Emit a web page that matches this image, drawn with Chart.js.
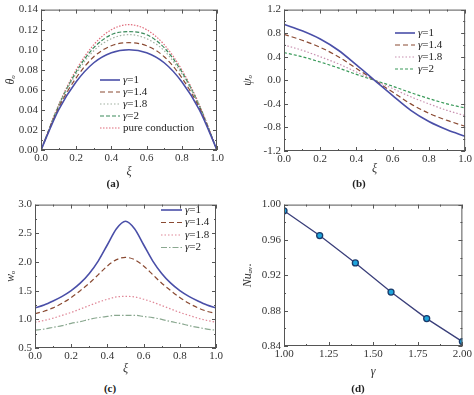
<!DOCTYPE html>
<html>
<head>
<meta charset="utf-8">
<script src="https://cdn.jsdelivr.net/npm/chart.js@4.4.0/dist/chart.umd.min.js"></script>
<style>
body { margin: 0; background: #fff; }
#wrap { position: relative; width: 474px; height: 395px; overflow: hidden; font-family: "Liberation Serif", serif; }
canvas { position: absolute; }
.cap { position: absolute; font-size: 11px; font-weight: bold; line-height: 12px; transform: translateX(-50%); color: #222; }
</style>
</head>
<body>
<div id="wrap">
  <canvas id="pa" width="230" height="183" style="left:0;top:0"></canvas>
  <canvas id="pb" width="237" height="180" style="left:237px;top:0"></canvas>
  <canvas id="pc" width="230" height="185" style="left:0;top:195px"></canvas>
  <canvas id="pd" width="237" height="188" style="left:237px;top:195px"></canvas>
  <div class="cap" style="left:113px;top:177px">(a)</div>
  <div class="cap" style="left:359px;top:177px">(b)</div>
  <div class="cap" style="left:110px;top:382px">(c)</div>
  <div class="cap" style="left:358px;top:382px">(d)</div>
</div>
<script>
// ---- data ----
const xi10 = [0, 0.1, 0.2, 0.3, 0.4, 0.5, 0.6, 0.7, 0.8, 0.9, 1.0];
const xi20 = [0, 0.05, 0.1, 0.15, 0.2, 0.25, 0.3, 0.35, 0.4, 0.45, 0.5,
              0.55, 0.6, 0.65, 0.7, 0.75, 0.8, 0.85, 0.9, 0.95, 1.0];

// (a) theta_o
const thetaG1   = [0, 0.040, 0.068, 0.087, 0.097, 0.100, 0.097, 0.087, 0.068, 0.040, 0];
const thetaG14  = [0, 0.042, 0.072, 0.093, 0.104, 0.107, 0.104, 0.093, 0.072, 0.042, 0];
const thetaG18  = [0, 0.044, 0.076, 0.099, 0.111, 0.115, 0.111, 0.099, 0.076, 0.044, 0];
const thetaG2   = [0, 0.044, 0.078, 0.102, 0.115, 0.118, 0.115, 0.102, 0.078, 0.044, 0];
const thetaPure = [0, 0.045, 0.080, 0.105, 0.120, 0.125, 0.120, 0.105, 0.080, 0.045, 0];

// (b) psi_o
const psiG1  = [0.95, 0.84, 0.70, 0.51, 0.26, 0, -0.26, -0.51, -0.70, -0.84, -0.95];
const psiG14 = [0.78, 0.68, 0.56, 0.40, 0.20, 0, -0.20, -0.40, -0.56, -0.68, -0.78];
const psiG18 = [0.60, 0.51, 0.40, 0.28, 0.14, 0, -0.14, -0.28, -0.40, -0.51, -0.60];
const psiG2  = [0.47, 0.40, 0.31, 0.21, 0.10, 0, -0.10, -0.21, -0.31, -0.40, -0.47];

// (c) w_o
const wG1  = [1.20, 1.25, 1.32, 1.40, 1.50, 1.63, 1.80, 2.02, 2.30, 2.58, 2.71,
              2.58, 2.30, 2.02, 1.80, 1.63, 1.50, 1.40, 1.32, 1.25, 1.20];
const wG14 = [1.10, 1.14, 1.20, 1.28, 1.38, 1.50, 1.63, 1.78, 1.93, 2.04, 2.08,
              2.04, 1.93, 1.78, 1.63, 1.50, 1.38, 1.28, 1.20, 1.14, 1.10];
const wG18 = [0.95, 0.98, 1.02, 1.07, 1.12, 1.18, 1.24, 1.30, 1.35, 1.39, 1.40,
              1.39, 1.35, 1.30, 1.24, 1.18, 1.12, 1.07, 1.02, 0.98, 0.95];
const wG2  = [0.81, 0.83, 0.86, 0.89, 0.93, 0.96, 1.00, 1.03, 1.05, 1.07, 1.07,
              1.07, 1.05, 1.03, 1.00, 0.96, 0.93, 0.89, 0.86, 0.83, 0.81];

// (d) Nu_av vs gamma
const gammaVals = [1.0, 1.2, 1.4, 1.6, 1.8, 2.0];
const nuAvg     = [0.993, 0.965, 0.934, 0.901, 0.871, 0.845];

const FONT = '"Liberation Serif", "DejaVu Serif", serif';

// inward ticks on all four sides + frame
const frameTicks = {
  id: 'frameTicks',
  afterDraw(chart) {
    const { ctx, chartArea: a, scales } = chart;
    ctx.save();
    ctx.strokeStyle = '#555';
    ctx.lineWidth = 1;
    ctx.strokeRect(a.left + 0.5, a.top + 0.5, a.right - a.left - 1, a.bottom - a.top - 1);
    const marks = (scale) => {
      const vals = scale.ticks.map(t => t.value);
      const out = vals.map(v => [v, 4]);
      for (let i = 0; i < vals.length - 1; i++) out.push([(vals[i] + vals[i + 1]) / 2, 2]);
      return out;
    };
    ctx.beginPath();
    marks(scales.x).forEach(([v, len]) => {
      const p = Math.round(scales.x.getPixelForValue(v)) + 0.5;
      ctx.moveTo(p, a.bottom); ctx.lineTo(p, a.bottom - len);
      ctx.moveTo(p, a.top); ctx.lineTo(p, a.top + len);
    });
    marks(scales.y).forEach(([v, len]) => {
      const p = Math.round(scales.y.getPixelForValue(v)) + 0.5;
      ctx.moveTo(a.left, p); ctx.lineTo(a.left + len, p);
      ctx.moveTo(a.right, p); ctx.lineTo(a.right - len, p);
    });
    ctx.stroke();
    ctx.restore();
  }
};

// legend drawn inside the plot
const inLegend = {
  id: 'inLegend',
  afterDatasetsDraw(chart, args, opts) {
    if (opts.x0 == null) return;
    const ctx = chart.ctx;
    chart.data.datasets.forEach((ds, i) => {
      const y = opts.y0 + i * opts.dy;
      ctx.save();
      ctx.strokeStyle = ds.borderColor;
      ctx.lineWidth = ds.borderWidth;
      ctx.setLineDash(ds.borderDash || []);
      ctx.beginPath();
      ctx.moveTo(opts.x0, y);
      ctx.lineTo(opts.x1, y);
      ctx.stroke();
      ctx.setLineDash([]);
      ctx.fillStyle = '#222';
      ctx.textBaseline = 'middle';
      let tx = opts.x1 + 3;
      const lab = ds.label;
      if (lab.startsWith('γ')) {
        ctx.font = 'italic 11px ' + FONT;
        ctx.fillText('γ', tx, y);
        tx += ctx.measureText('γ').width;
        ctx.font = '11px ' + FONT;
        ctx.fillText(lab.slice(1), tx, y);
      } else {
        ctx.font = '11px ' + FONT;
        ctx.fillText(lab, tx, y);
      }
      ctx.restore();
    });
  }
};

Chart.register(frameTicks, inLegend);

function line(label, xs, ys, color, dash, width) {
  return {
    label: label,
    data: xs.map((x, i) => ({ x: x, y: ys[i] })),
    borderColor: color,
    borderWidth: width || 1.2,
    borderDash: dash,
    pointRadius: 0,
    fill: false,
    cubicInterpolationMode: 'monotone'
  };
}

function makePanel(id, datasets, p) {
  return new Chart(document.getElementById(id), {
    type: 'line',
    data: { datasets: datasets },
    options: {
      responsive: false,
      animation: false,
      layout: { padding: { top: p.padTop, right: p.padRight, left: 0, bottom: 0 } },
      plugins: {
        legend: { display: false },
        tooltip: { enabled: false },
        inLegend: p.legend || {}
      },
      scales: {
        x: {
          type: 'linear',
          min: p.xMin, max: p.xMax,
          afterFit: s => { s.height = p.xAxisH; },
          grid: { display: false, drawTicks: false },
          border: { display: false },
          ticks: {
            stepSize: p.xStep, padding: 2, color: '#333',
            font: { family: FONT, size: 11 },
            callback: v => v.toFixed(p.xDec)
          },
          title: { display: true, text: p.xTitle, color: '#333',
                   font: { family: FONT, size: 12, style: 'italic' } }
        },
        y: {
          min: p.yMin, max: p.yMax,
          afterFit: s => { s.width = p.yAxisW; },
          grid: { display: false, drawTicks: false },
          border: { display: false },
          ticks: {
            stepSize: p.yStep, padding: 3, color: '#333',
            font: { family: FONT, size: 11 },
            callback: v => v.toFixed(p.yDec)
          },
          title: { display: true, text: p.yTitle, color: '#333',
                   font: { family: FONT, size: 12, style: 'italic' } }
        }
      }
    }
  });
}

// (a)
makePanel('pa', [
  line('γ=1', xi10, thetaG1, '#4a4fa8', [], 1.6),
  line('γ=1.4', xi10, thetaG14, '#8a4a32', [5, 3]),
  line('γ=1.8', xi10, thetaG18, '#9fb0a0', [1.5, 2]),
  line('γ=2', xi10, thetaG2, '#3a8a5a', [4, 2]),
  line('pure conduction', xi10, thetaPure, '#e06a7a', [1.5, 1.5])
], {
  padTop: 7, padRight: 13, yAxisW: 41, xAxisH: 33,
  xMin: 0, xMax: 1, xStep: 0.2, xDec: 1, xTitle: 'ξ',
  yMin: 0, yMax: 0.14, yStep: 0.02, yDec: 2, yTitle: 'θₒ',
  legend: { x0: 100, x1: 120, y0: 80, dy: 12 }
});

// (b)
makePanel('pb', [
  line('γ=1', xi10, psiG1, '#4a4fa8', [], 1.6),
  line('γ=1.4', xi10, psiG14, '#8a4a32', [5, 3]),
  line('γ=1.8', xi10, psiG18, '#c890b0', [1.5, 2]),
  line('γ=2', xi10, psiG2, '#3a9a5a', [3, 2])
], {
  padTop: 9, padRight: 6, yAxisW: 47, xAxisH: 29,
  xMin: 0, xMax: 1, xStep: 0.2, xDec: 1, xTitle: 'ξ',
  yMin: -1.2, yMax: 1.2, yStep: 0.4, yDec: 1, yTitle: 'ψₒ',
  legend: { x0: 158, x1: 178, y0: 33, dy: 12 }
});

// (c)
makePanel('pc', [
  line('γ=1', xi20, wG1, '#4a4fa8', [], 1.6),
  line('γ=1.4', xi20, wG14, '#8a4a32', [5, 3]),
  line('γ=1.8', xi20, wG18, '#e08898', [1.5, 2]),
  line('γ=2', xi20, wG2, '#8aa890', [6, 2, 1.5, 2])
], {
  padTop: 7, padRight: 14, yAxisW: 35, xAxisH: 32,
  xMin: 0, xMax: 1, xStep: 0.2, xDec: 1, xTitle: 'ξ',
  yMin: 0.5, yMax: 3.0, yStep: 0.5, yDec: 1, yTitle: 'wₒ',
  legend: { x0: 161, x1: 182, y0: 15, dy: 12.5 }
});

// (d)
const nuSet = line('Nu', gammaVals, nuAvg, '#3a3f7a', [], 1.3);
nuSet.cubicInterpolationMode = 'default';
nuSet.pointRadius = 3;
nuSet.pointBackgroundColor = '#1ea4dc';
nuSet.pointBorderColor = '#1a3a6a';
nuSet.pointBorderWidth = 1.3;
makePanel('pd', [nuSet], {
  padTop: 4, padRight: 8, yAxisW: 47, xAxisH: 37,
  xMin: 1, xMax: 2, xStep: 0.25, xDec: 2, xTitle: 'γ',
  yMin: 0.84, yMax: 1.0, yStep: 0.04, yDec: 2, yTitle: 'Nuₐᵥ.'
});
</script>
</body>
</html>
